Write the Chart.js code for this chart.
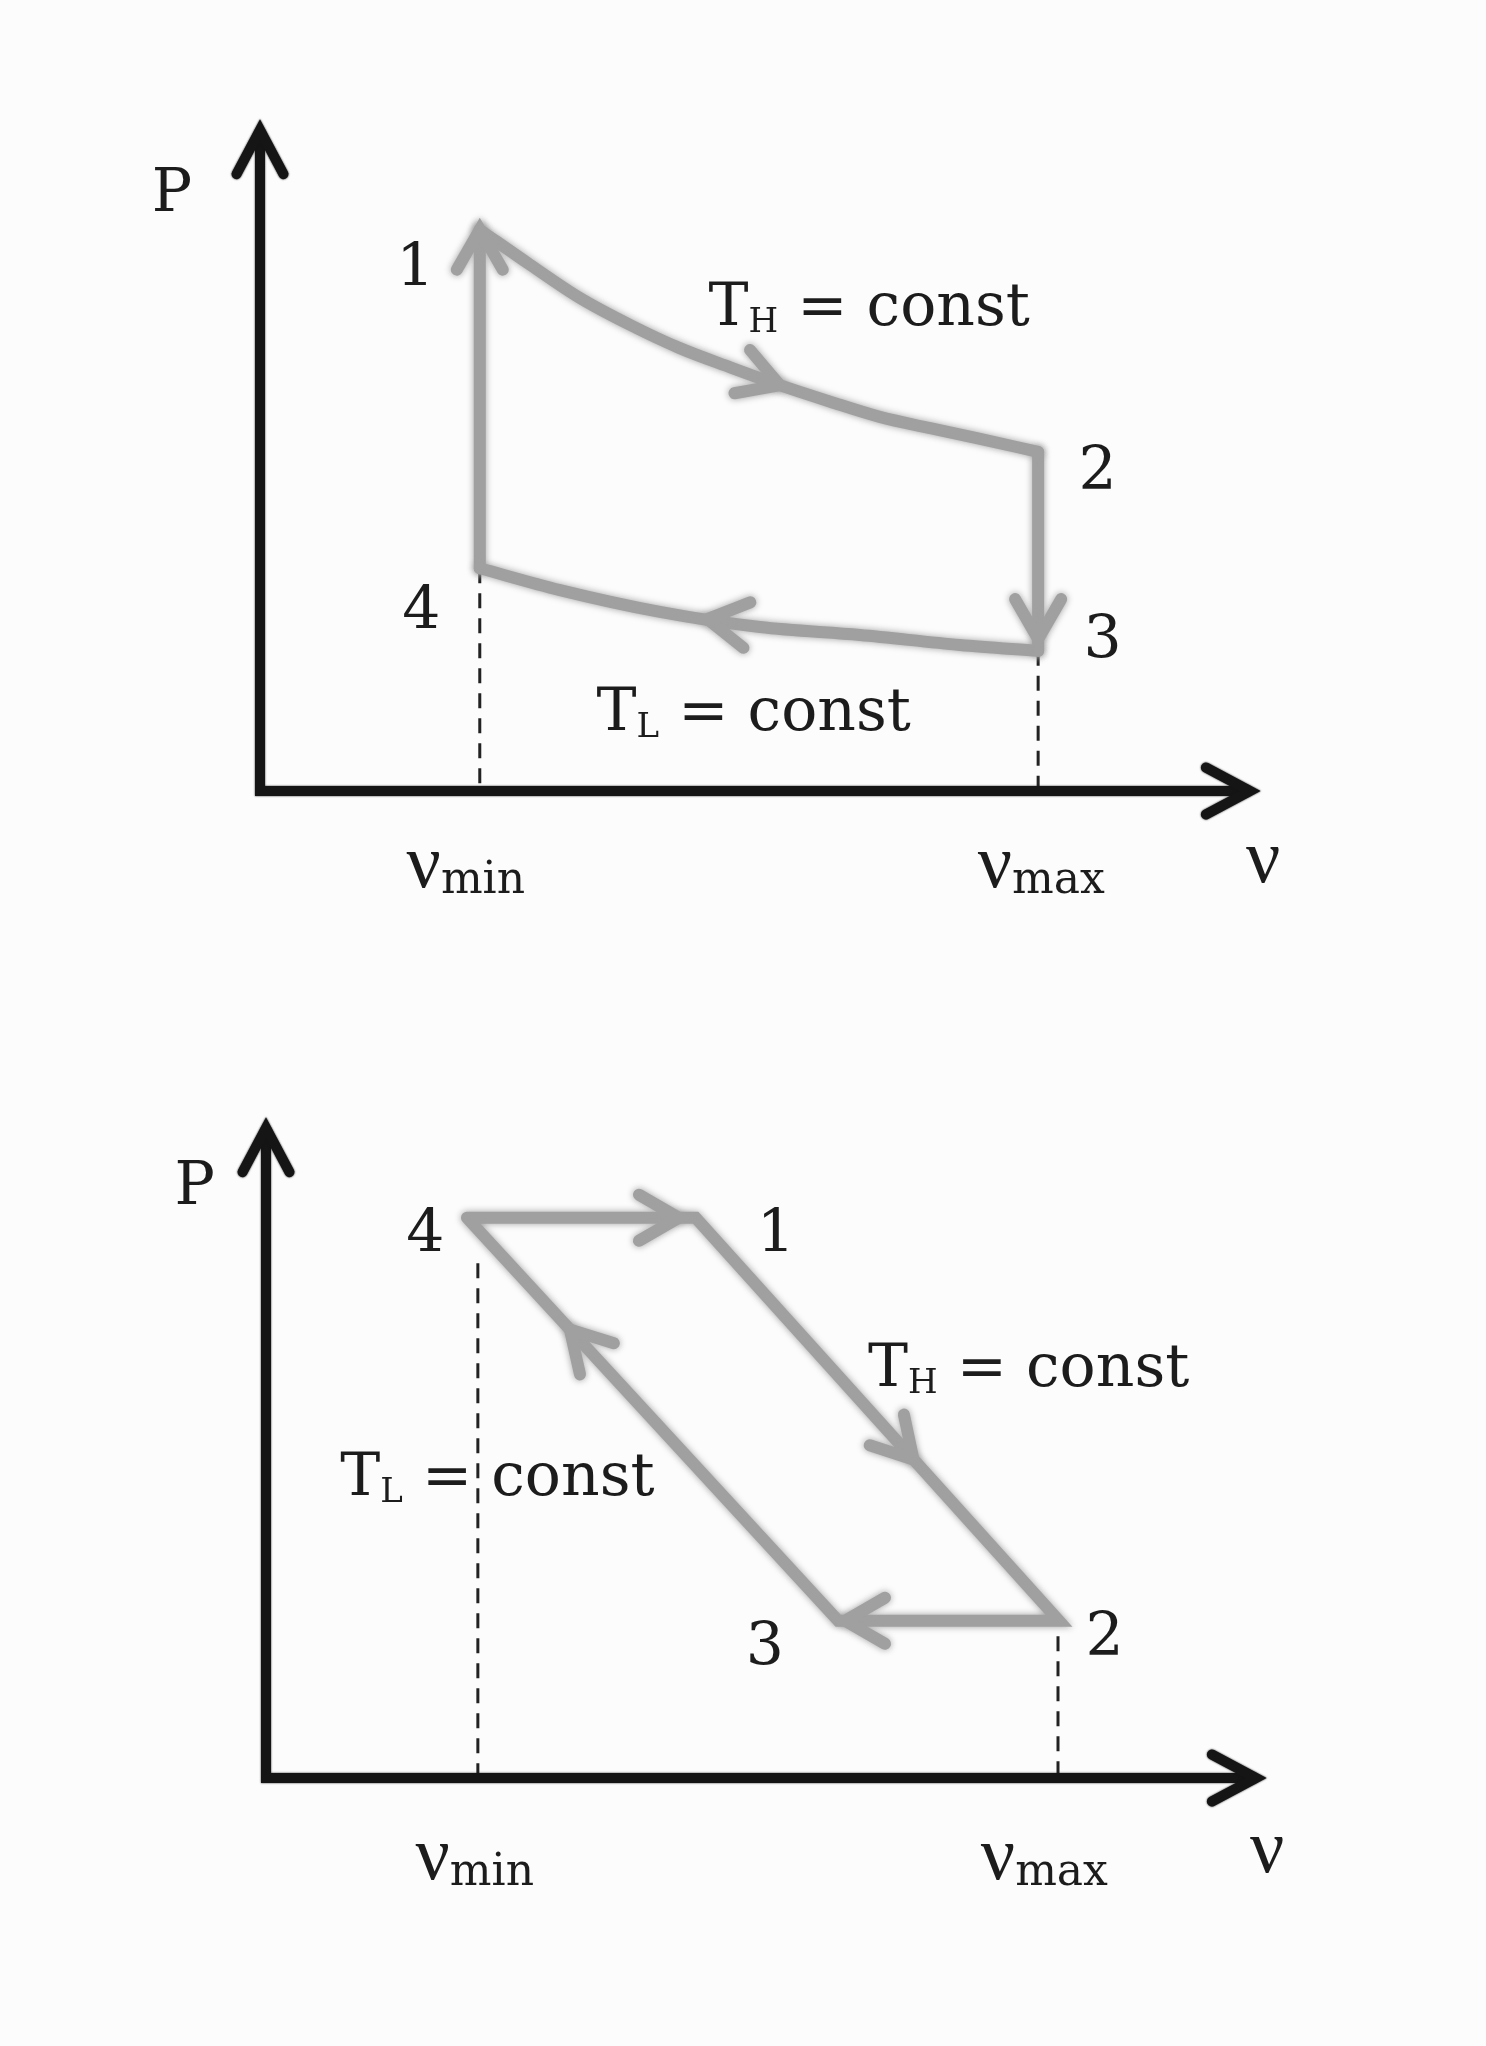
<!DOCTYPE html>
<html>
<head>
<meta charset="utf-8">
<title>P-v cycles</title>
<script src="https://cdn.jsdelivr.net/npm/chart.js@4.4.1/dist/chart.umd.min.js"></script>
<style>
  html, body { margin: 0; padding: 0; background: #fcfcfc; }
  #page { position: relative; width: 1486px; height: 2046px; }
  .panel { position: absolute; left: 0; width: 1486px; }
</style>
</head>
<body>
<div id="page">
  <div class="panel" style="top:0;height:1000px"><canvas id="top"></canvas></div>
  <div class="panel" style="top:1000px;height:1046px"><canvas id="bottom"></canvas></div>
</div>
<script>
// ---- top diagram: two isotherms joined by two isochores ----
const topVolumes = [2.22, 7.86];          // v_min, v_max
const hotV  = [2.22, 2.73, 3.23, 3.74, 4.24, 4.75, 5.25, 5.76, 6.26, 6.77, 7.24, 7.86];
const hotP  = [8.49, 7.96, 7.46, 7.05, 6.70, 6.41, 6.14, 5.89, 5.66, 5.49, 5.34, 5.13];
const coldV = [2.22, 3.03, 4.04, 5.05, 6.06, 7.07, 7.86];
const coldP = [3.37, 3.04, 2.71, 2.48, 2.36, 2.21, 2.12];

// ---- bottom diagram: cycle 4 -> 1 -> 2 -> 3 -> 4 ----
const bottomVolumes = [2.14, 8.00];       // v_min, v_max markers
const cycleV = [2.03, 4.34, 8.01, 5.78, 2.03];
const cycleP = [8.62, 8.62, 2.42, 2.42, 8.62];

// text
const pointNames = ['1', '2', '3', '4'];
const isoNames = [['T', 'H', ' = const'], ['T', 'L', ' = const']];
const axisNames = ['P', 'ν'];
const volNames = [['ν', 'min'], ['ν', 'max']];

const GREY = '#a0a0a0';
const INK = '#151515';
const FONT = '"DejaVu Serif", "Liberation Serif", serif';
const NUFONT = '"Liberation Serif", "DejaVu Serif", serif';

const pts = (xs, ys) => xs.map((x, i) => ({ x: x, y: ys[i] }));

function greyLine(data, curved) {
  return {
    data: data, showLine: true, pointRadius: 0, clip: false,
    borderColor: GREY, borderWidth: 12, blur: 7,
    borderCapStyle: 'round', borderJoinStyle: curved ? 'round' : 'miter',
    cubicInterpolationMode: curved ? 'monotone' : 'default', tension: 0
  };
}
function dashLine(v, top) {
  return {
    data: [{ x: v, y: top }, { x: v, y: 0 }], showLine: true, pointRadius: 0, clip: false,
    borderColor: '#222', borderWidth: 3, borderDash: [15, 10]
  };
}
function axesLine() {
  return {
    data: [{ x: 0, y: 10 }, { x: 0, y: 0 }, { x: 10, y: 0 }], showLine: true, pointRadius: 0, clip: false,
    borderColor: INK, borderWidth: 10, blur: 2, borderJoinStyle: 'miter', borderCapStyle: 'butt'
  };
}

const blurPlugin = {
  id: 'blur',
  beforeDatasetDraw(chart, args) {
    const ds = chart.data.datasets[args.index];
    chart.ctx.save();
    if (ds.blur) { chart.ctx.shadowColor = ds.borderColor; chart.ctx.shadowBlur = ds.blur; }
  },
  afterDatasetDraw(chart) { chart.ctx.restore(); }
};

const axisHead = { color: INK, width: 10, len: 50, angle: 28, blur: 2 };
const greyHead = { color: GREY, width: 12, len: 46, angle: 30, blur: 7 };

function decorations(heads, labels) {
  return {
    id: 'decor',
    afterDatasetsDraw(chart) {
      const ctx = chart.ctx, sx = chart.scales.x, sy = chart.scales.y;
      heads.forEach(h => {
        const s = h.style;
        const tx = sx.getPixelForValue(h.tip[0]), ty = sy.getPixelForValue(h.tip[1]);
        let dx = sx.getPixelForValue(h.tail[0]) - tx, dy = sy.getPixelForValue(h.tail[1]) - ty;
        const n = Math.hypot(dx, dy); dx /= n; dy /= n;
        const a = s.angle * Math.PI / 180;
        const ux = dx * Math.cos(a) - dy * Math.sin(a), uy = dx * Math.sin(a) + dy * Math.cos(a);
        const vx = dx * Math.cos(-a) - dy * Math.sin(-a), vy = dx * Math.sin(-a) + dy * Math.cos(-a);
        ctx.save();
        ctx.strokeStyle = s.color; ctx.lineWidth = s.width;
        ctx.lineJoin = 'miter'; ctx.lineCap = 'round';
        ctx.shadowColor = s.color; ctx.shadowBlur = s.blur;
        ctx.beginPath();
        ctx.moveTo(tx + ux * s.len, ty + uy * s.len);
        ctx.lineTo(tx, ty);
        ctx.lineTo(tx + vx * s.len, ty + vy * s.len);
        ctx.stroke();
        ctx.restore();
      });
      ctx.save();
      ctx.fillStyle = '#1c1c1c';
      ctx.textBaseline = 'alphabetic';
      labels.forEach(l => {
        let x = sx.getPixelForValue(l.at[0]);
        const y = sy.getPixelForValue(l.at[1]);
        let w = 0;
        l.parts.forEach(p => { ctx.font = p.font; w += ctx.measureText(p.text).width; });
        if (l.center) x -= w / 2;
        ctx.textAlign = 'left';
        l.parts.forEach(p => {
          ctx.font = p.font;
          ctx.fillText(p.text, x, y + (p.dy || 0));
          x += ctx.measureText(p.text).width;
        });
      });
      ctx.restore();
    }
  };
}

const MAIN = '60px ' + FONT, SUB = '34px ' + FONT, NU = '76px ' + NUFONT, NUSUB = '44px ' + FONT;
const plain = (t, at) => ({ parts: [{ text: t, font: MAIN }], at: at, center: true });
const iso = (n, at) => ({ parts: [{ text: n[0], font: MAIN }, { text: n[1], font: SUB, dy: 7 }, { text: n[2], font: MAIN }], at: at });
const vol = (n, at) => ({ parts: [{ text: n[0], font: NU }, { text: n[1], font: NUSUB, dy: 6 }], at: at });
const nu = (at) => ({ parts: [{ text: axisNames[1], font: NU }], at: at });

function build(id, pad, datasets, heads, labels) {
  return new Chart(document.getElementById(id), {
    type: 'scatter',
    data: { datasets: datasets },
    options: {
      responsive: true, maintainAspectRatio: false, animation: false, events: [],
      layout: { padding: pad },
      scales: {
        x: { type: 'linear', min: 0, max: 10, display: false },
        y: { type: 'linear', min: 0, max: 10, display: false }
      },
      plugins: { legend: { display: false }, tooltip: { enabled: false } }
    },
    plugins: [blurPlugin, decorations(heads, labels)]
  });
}

// top
const hotData = pts(hotV, hotP), coldData = pts(coldV, coldP);
build('top', { left: 260, right: 236, top: 130, bottom: 209 }, [
  axesLine(),
  greyLine(hotData, true),
  greyLine(coldData, true),
  greyLine([hotData[0], coldData[0]], false),
  greyLine([hotData[hotData.length - 1], coldData[coldData.length - 1]], false),
  dashLine(topVolumes[0], coldP[0]),
  dashLine(topVolumes[1], coldP[coldP.length - 1])
], [
  { tip: [0, 10], tail: [0, 0], style: axisHead },
  { tip: [10, 0], tail: [0, 0], style: axisHead },
  { tip: [hotV[0], hotP[0]], tail: [hotV[0], 5], style: greyHead },
  { tip: [5.25, 6.14], tail: [4.75, 6.41], style: greyHead },
  { tip: [topVolumes[1], 2.30], tail: [topVolumes[1], 4], style: greyHead },
  { tip: [4.52, 2.60], tail: [5.05, 2.48], style: greyHead }
], [
  plain(axisNames[0], [-0.89, 8.78]),
  plain(pointNames[0], [1.57, 7.64]),
  plain(pointNames[1], [8.46, 4.57]),
  plain(pointNames[2], [8.51, 2.01]),
  plain(pointNames[3], [1.63, 2.45]),
  iso(isoNames[0], [4.53, 7.05]),
  iso(isoNames[1], [3.40, 0.92]),
  vol(volNames[0], [1.48, -1.45]),
  vol(volNames[1], [7.25, -1.45]),
  nu([9.96, -1.38])
]);

// bottom
const cyc = pts(cycleV, cycleP);
build('bottom', { left: 266, right: 230, top: 128, bottom: 268 }, [
  axesLine(),
  greyLine(cyc, false),
  dashLine(bottomVolumes[0], 7.92),
  dashLine(bottomVolumes[1], 2.18)
], [
  { tip: [0, 10], tail: [0, 0], style: axisHead },
  { tip: [10, 0], tail: [0, 0], style: axisHead },
  { tip: [4.17, cycleP[0]], tail: [cycleV[0], cycleP[0]], style: greyHead },
  { tip: [6.54, 4.90], tail: [cycleV[1], cycleP[1]], style: greyHead },
  { tip: [5.85, cycleP[2]], tail: [cycleV[2], cycleP[2]], style: greyHead },
  { tip: [3.07, 6.90], tail: [cycleV[3], cycleP[3]], style: greyHead }
], [
  plain(axisNames[0], [-0.72, 8.83]),
  plain(pointNames[3], [1.61, 8.09]),
  plain(pointNames[0], [5.15, 8.09]),
  plain(pointNames[2], [5.04, 1.74]),
  plain(pointNames[1], [8.47, 1.89]),
  iso(isoNames[0], [6.08, 6.03]),
  iso(isoNames[1], [0.75, 4.35]),
  vol(volNames[0], [1.51, -1.55]),
  vol(volNames[1], [7.22, -1.55]),
  nu([9.94, -1.45])
]);
</script>
</body>
</html>
